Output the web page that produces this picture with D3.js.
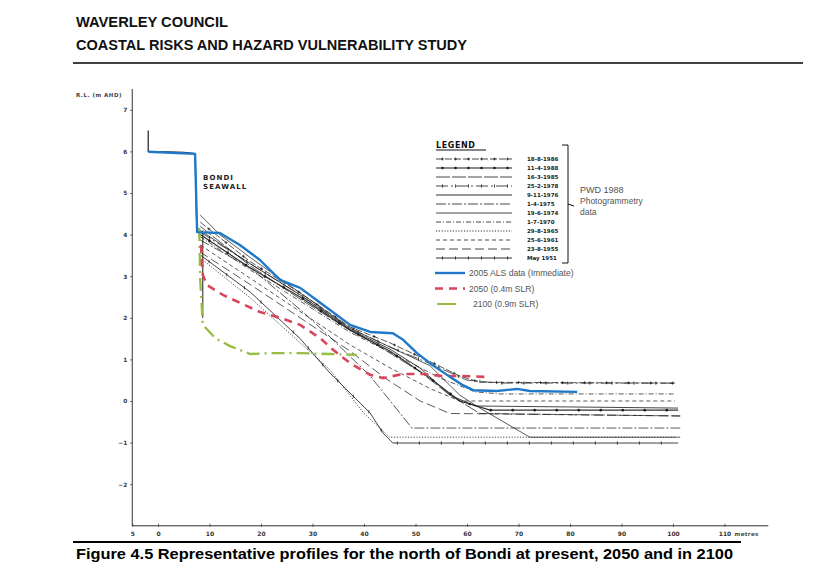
<!DOCTYPE html>
<html>
<head>
<meta charset="utf-8">
<script src="https://cdn.jsdelivr.net/npm/d3@7"></script>
<style>
  html, body { margin: 0; padding: 0; background: #fff; }
  svg { display: block; }
</style>
</head>
<body>
<svg id="fig" width="828" height="586"></svg>
<script>
// Bondi north profiles: chainage (m) vs R.L. (m AHD)
const xTicks = [-5, 0, 10, 20, 30, 40, 50, 60, 70, 80, 90, 100, 110];
const xTickLabels = ['5', '0', '10', '20', '30', '40', '50', '60', '70', '80', '90', '100', '110'];
const yTicks = [7, 6, 5, 4, 3, 2, 1, 0, -1, -2];

// seawall crest / face (black outline under the 2005 line)
const seawall = [[-1.9, 6.5], [-1.9, 6.0], [5.0, 5.98], [7.2, 5.95], [7.5, 4.3]];
const wallFace = [[8.7, 4.1], [8.7, 2.0]];

// PWD 1988 photogrammetry profiles
const surveyDates = ['18-8-1986', '11-4-1988', '16-3-1985', '25-2-1978', '9-11-1976', '1-4-1975',
  '19-6-1974', '1-7-1970', '29-8-1965', '25-6-1961', '23-8-1955', 'May 1951'];
const surveyProfiles = [
  [[8.2, 4.3], [17.9, 3.35], [27.6, 2.6], [37.3, 1.78], [45.0, 1.4], [52.8, 0.95], [58.6, 0.6], [62.5, 0.45], [100.4, 0.43]],
  [[8.2, 4.0], [17.9, 3.2], [27.6, 2.5], [37.3, 1.7], [45.0, 1.2], [52.8, 0.55], [58.6, 0.0], [64.5, -0.22], [101.0, -0.22]],
  [[8.2, 4.2], [17.9, 3.25], [27.6, 2.45], [35.3, 1.85], [43.1, 1.3], [50.9, 0.70], [56.7, 0.14], [62.5, -0.3], [101.4, -0.36]],
  [[8.2, 4.06], [17.9, 3.3], [27.6, 2.55], [37.3, 1.75], [45.0, 1.3], [52.8, 0.9], [60.0, 0.5], [66.4, 0.43], [100.4, 0.43]],
  [[8.2, 4.1], [17.9, 3.3], [27.6, 2.55], [37.3, 1.72], [45.0, 1.25], [50.9, 0.79], [56.7, 0.14], [61.6, -0.12], [101.0, -0.17]],
  [[8.2, 3.87], [17.9, 3.2], [27.6, 2.2], [33.4, 1.54], [41.2, 0.6], [49.3, -0.65], [101.4, -0.65]],
  [[8.2, 4.47], [12.0, 4.0], [17.9, 3.45], [27.6, 2.6], [37.3, 1.75], [45.0, 1.3], [52.8, 0.85], [58.6, 0.14], [62.5, -0.17], [72.2, -0.87], [101.4, -0.87]],
  [[8.2, 3.95], [17.9, 3.15], [27.6, 2.4], [37.3, 1.65], [47.0, 1.05], [54.8, 0.55], [61.6, 0.22], [66.4, 0.17], [100.4, 0.17]],
  [[8.2, 3.44], [17.9, 2.48], [27.6, 1.4], [33.4, 0.75], [40.0, -0.3], [45.0, -0.87], [100.4, -0.87]],
  [[8.2, 3.75], [17.9, 2.95], [27.6, 2.15], [37.3, 1.35], [45.0, 0.8], [52.8, 0.3], [58.6, 0.0], [100.4, 0.0]],
  [[8.2, 3.58], [17.9, 2.8], [27.6, 2.0], [37.3, 1.2], [44.1, 0.55], [50.9, 0.0], [56.7, -0.3], [101.4, -0.36]],
  [[8.2, 3.51], [17.9, 2.62], [27.6, 1.5], [33.4, 0.67], [41.2, -0.29], [43.7, -0.77], [45.6, -1.01], [101.0, -1.01]]
];

// 2005 ALS data (immediate) and the projected profiles
const als2005 = [[-1.9, 5.99], [7.2, 5.94], [7.6, 4.06], [12.0, 4.04], [15.9, 3.75], [19.8, 3.39], [23.7, 2.91],
  [27.6, 2.72], [31.5, 2.36], [37.3, 1.83], [41.2, 1.66], [45.6, 1.63], [47.6, 1.47], [50.3, 1.15], [52.8, 0.91],
  [56.7, 0.58], [59.2, 0.38], [61.2, 0.26], [65.8, 0.24], [69.7, 0.29], [72.2, 0.24], [81.4, 0.22]];
const slr2050 = [[8.35, 3.75], [8.7, 3.03], [9.5, 2.79], [12.6, 2.55], [15.9, 2.36], [19.8, 2.14], [23.7, 2.0],
  [27.6, 1.83], [31.5, 1.51], [34.0, 1.23], [37.3, 0.91], [41.2, 0.63], [43.7, 0.55], [47.6, 0.65], [51.5, 0.65],
  [55.3, 0.60], [59.2, 0.60], [63.5, 0.58]];
const slr2100 = [[8.0, 4.16], [8.2, 2.9], [8.7, 1.83], [11.1, 1.51], [14.0, 1.32], [17.9, 1.13], [21.7, 1.15],
  [27.6, 1.15], [33.4, 1.13], [38.6, 1.11]];
const scenarioLabels = ['2005 ALS data (Immediate)', '2050 (0.4m SLR)', '2100 (0.9m SLR)'];

(function () {
  const svg = d3.select('#fig');
  const ink = '#1a1a1a';
  const tiny = 'DejaVu Sans, sans-serif';

  // ---- page header / caption ----
  svg.append('text').attr('x', 76).attr('y', 27).attr('font-family', 'Liberation Sans, Arial, sans-serif')
    .attr('font-weight', 700).attr('font-size', 14.5).attr('fill', '#111')
    .attr('textLength', 152).attr('lengthAdjust', 'spacingAndGlyphs').text('WAVERLEY COUNCIL');
  svg.append('text').attr('x', 76).attr('y', 50).attr('font-family', 'Liberation Sans, Arial, sans-serif')
    .attr('font-weight', 700).attr('font-size', 14.5).attr('fill', '#111')
    .attr('textLength', 391).attr('lengthAdjust', 'spacingAndGlyphs').text('COASTAL RISKS AND HAZARD VULNERABILITY STUDY');
  svg.append('line').attr('x1', 73).attr('x2', 803).attr('y1', 63).attr('y2', 63).attr('stroke', '#000').attr('stroke-width', 1.3);

  svg.append('line').attr('x1', 73).attr('x2', 741).attr('y1', 542).attr('y2', 542).attr('stroke', '#000').attr('stroke-width', 2);
  svg.append('text').attr('x', 76).attr('y', 559).attr('font-family', 'Liberation Sans, Arial, sans-serif')
    .attr('font-weight', 700).attr('font-size', 15.5).attr('fill', '#000')
    .attr('textLength', 657).attr('lengthAdjust', 'spacingAndGlyphs')
    .text('Figure 4.5 Representative profiles for the north of Bondi at present, 2050 and in 2100');

  // ---- scales ----
  const x = d3.scaleLinear().domain([-5, 115]).range([132.25, 750.25]);
  const y = d3.scaleLinear().domain([-3, 7.5]).range([525.8, 89]);

  // axes
  const xAxis = svg.append('g').attr('transform', `translate(0,${y(-3)})`)
    .call(d3.axisBottom(x).tickValues(xTicks).tickSize(2).tickPadding(4)
      .tickFormat((d, i) => xTickLabels[i]));
  xAxis.select('.domain').attr('d', `M${x(-5)},0H${x(118.5)}`).attr('stroke', '#333').attr('stroke-width', 1);
  xAxis.selectAll('.tick line').attr('stroke', '#555').attr('y1', -2).attr('y2', 1);
  xAxis.selectAll('.tick text').attr('font-family', tiny).attr('font-weight', 700).attr('font-size', 6).attr('fill', '#333');
  svg.append('text').attr('x', x(110) + 10).attr('y', y(-3) + 10).attr('font-family', tiny).attr('font-weight', 700)
    .attr('font-size', 5.5).attr('letter-spacing', 0.4).attr('fill', '#444').text('metres');

  const yAxis = svg.append('g').attr('transform', `translate(${x(-5)},0)`)
    .call(d3.axisLeft(y).tickValues(yTicks).tickSize(2).tickPadding(3));
  yAxis.select('.domain').attr('d', `M0,${y(7.5)}V${y(-3)}`).attr('stroke', '#333').attr('stroke-width', 1);
  yAxis.selectAll('.tick line').attr('stroke', '#555');
  yAxis.selectAll('.tick text').attr('font-family', tiny).attr('font-weight', 700).attr('font-size', 5.8).attr('fill', '#333');
  svg.append('text').attr('x', 76).attr('y', 97).attr('font-family', tiny).attr('font-weight', 700)
    .attr('font-size', 5.5).attr('letter-spacing', 0.5).attr('fill', '#444').text('R.L. (m AHD)');

  const line = d3.line().x(d => x(d[0])).y(d => y(d[1]));

  // line styles for the 12 survey dates
  const styles = [
    { dash: '7,2', w: 0.8, mark: 'plus' },
    { dash: null, w: 1.2, mark: 'dot' },
    { dash: '14,2', w: 0.8 },
    { dash: '12,3,2,3', w: 0.8, mark: 'tick' },
    { dash: null, w: 0.9 },
    { dash: '10,2,2,2', w: 0.8 },
    { dash: null, w: 0.8 },
    { dash: '5,2,1,2', w: 0.8 },
    { dash: '1.2,1.6', w: 0.9 },
    { dash: '4,3', w: 0.8 },
    { dash: '9,4', w: 0.8 },
    { dash: null, w: 0.9, mark: 'tick' }
  ];

  function addMarks(g, pathNode, st, step) {
    if (!st.mark) return;
    const L = pathNode.getTotalLength();
    for (let s = step / 2; s < L; s += step) {
      const p = pathNode.getPointAtLength(s);
      if (st.mark === 'dot') {
        g.append('circle').attr('cx', p.x).attr('cy', p.y).attr('r', 1.3).attr('fill', ink);
      } else if (st.mark === 'plus') {
        g.append('path').attr('d', `M${p.x - 1.5},${p.y}H${p.x + 1.5}M${p.x},${p.y - 1.5}V${p.y + 1.5}`)
          .attr('stroke', ink).attr('stroke-width', 0.7);
      } else {
        g.append('path').attr('d', `M${p.x},${p.y - 1.6}V${p.y + 1.6}`).attr('stroke', ink).attr('stroke-width', 0.8);
      }
    }
  }

  // seawall outline
  svg.append('path').attr('d', line(seawall)).attr('fill', 'none').attr('stroke', ink).attr('stroke-width', 1.2);
  svg.append('path').attr('d', line(wallFace)).attr('fill', 'none').attr('stroke', ink).attr('stroke-width', 1);

  // survey profiles
  const gProf = svg.append('g');
  surveyProfiles.forEach((pts, i) => {
    const st = styles[i];
    const p = gProf.append('path').attr('d', line(pts)).attr('fill', 'none')
      .attr('stroke', ink).attr('stroke-width', st.w).attr('stroke-opacity', 0.9)
      .attr('stroke-dasharray', st.dash);
    addMarks(gProf, p.node(), st, 22);
  });

  // projections
  svg.append('path').attr('d', line(slr2100)).attr('fill', 'none').attr('stroke', '#97bd45')
    .attr('stroke-width', 2.3).attr('stroke-dasharray', '13,5,2,5');
  svg.append('path').attr('d', line(slr2050)).attr('fill', 'none').attr('stroke', '#d9455c')
    .attr('stroke-width', 2.6).attr('stroke-dasharray', '8,6');
  svg.append('path').attr('d', line(als2005)).attr('fill', 'none').attr('stroke', '#1f78c8')
    .attr('stroke-width', 2.4).attr('stroke-linejoin', 'round');

  // BONDI SEAWALL label
  svg.append('text').attr('x', 203).attr('y', 180).attr('font-family', tiny).attr('font-weight', 700)
    .attr('font-size', 7).attr('letter-spacing', 1.1).attr('fill', '#222').text('BONDI');
  svg.append('text').attr('x', 203).attr('y', 189).attr('font-family', tiny).attr('font-weight', 700)
    .attr('font-size', 7).attr('letter-spacing', 1.1).attr('fill', '#222').text('SEAWALL');

  // ---- legend ----
  const lg = svg.append('g');
  lg.append('text').attr('x', 436).attr('y', 148).attr('font-family', tiny).attr('font-weight', 700)
    .attr('font-size', 8).attr('letter-spacing', 0.6).attr('fill', '#111').text('LEGEND');
  lg.append('line').attr('x1', 436).attr('x2', 486).attr('y1', 150).attr('y2', 150).attr('stroke', '#111').attr('stroke-width', 1);

  const rowY = d3.scaleLinear().domain([0, 11]).range([159, 258]);
  surveyDates.forEach((d, i) => {
    const st = styles[i];
    const yy = rowY(i);
    const p = lg.append('path').attr('d', `M436,${yy}H512`).attr('fill', 'none').attr('stroke', ink)
      .attr('stroke-width', st.w).attr('stroke-dasharray', st.dash);
    addMarks(lg, p.node(), st, 13);
    lg.append('text').attr('x', 527).attr('y', yy + 2).attr('font-family', tiny).attr('font-weight', 700)
      .attr('font-size', 5.5).attr('fill', '#222').text(d);
  });
  // bracket
  lg.append('path').attr('d', 'M562,145H568V263H562M568,204L574,206').attr('fill', 'none')
    .attr('stroke', '#111').attr('stroke-width', 1);
  ['PWD 1988', 'Photogrammetry', 'data'].forEach((t, i) => {
    lg.append('text').attr('x', 580).attr('y', 193 + i * 11).attr('font-family', 'Liberation Sans, Arial, sans-serif')
      .attr('font-size', i === 0 ? 9 : 8.5).attr('fill', '#555').text(t);
  });

  const scen = [
    { c: '#1f78c8', dash: null, w: 2.4, x1: 435, x2: 465 },
    { c: '#d9455c', dash: '8,6', w: 2.6, x1: 435, x2: 465 },
    { c: '#97bd45', dash: null, w: 2, x1: 437, x2: 456 }
  ];
  scenarioLabels.forEach((t, i) => {
    const s = scen[i];
    const yy = 273 + i * 15.5;
    lg.append('line').attr('x1', s.x1).attr('x2', s.x2).attr('y1', yy).attr('y2', yy)
      .attr('stroke', s.c).attr('stroke-width', s.w).attr('stroke-dasharray', s.dash);
    lg.append('text').attr('x', i === 2 ? 473 : 469).attr('y', yy + 3).attr('font-family', 'Liberation Sans, Arial, sans-serif')
      .attr('font-size', 8.6).attr('fill', '#555').text(t);
  });
})();
</script>
</body>
</html>
